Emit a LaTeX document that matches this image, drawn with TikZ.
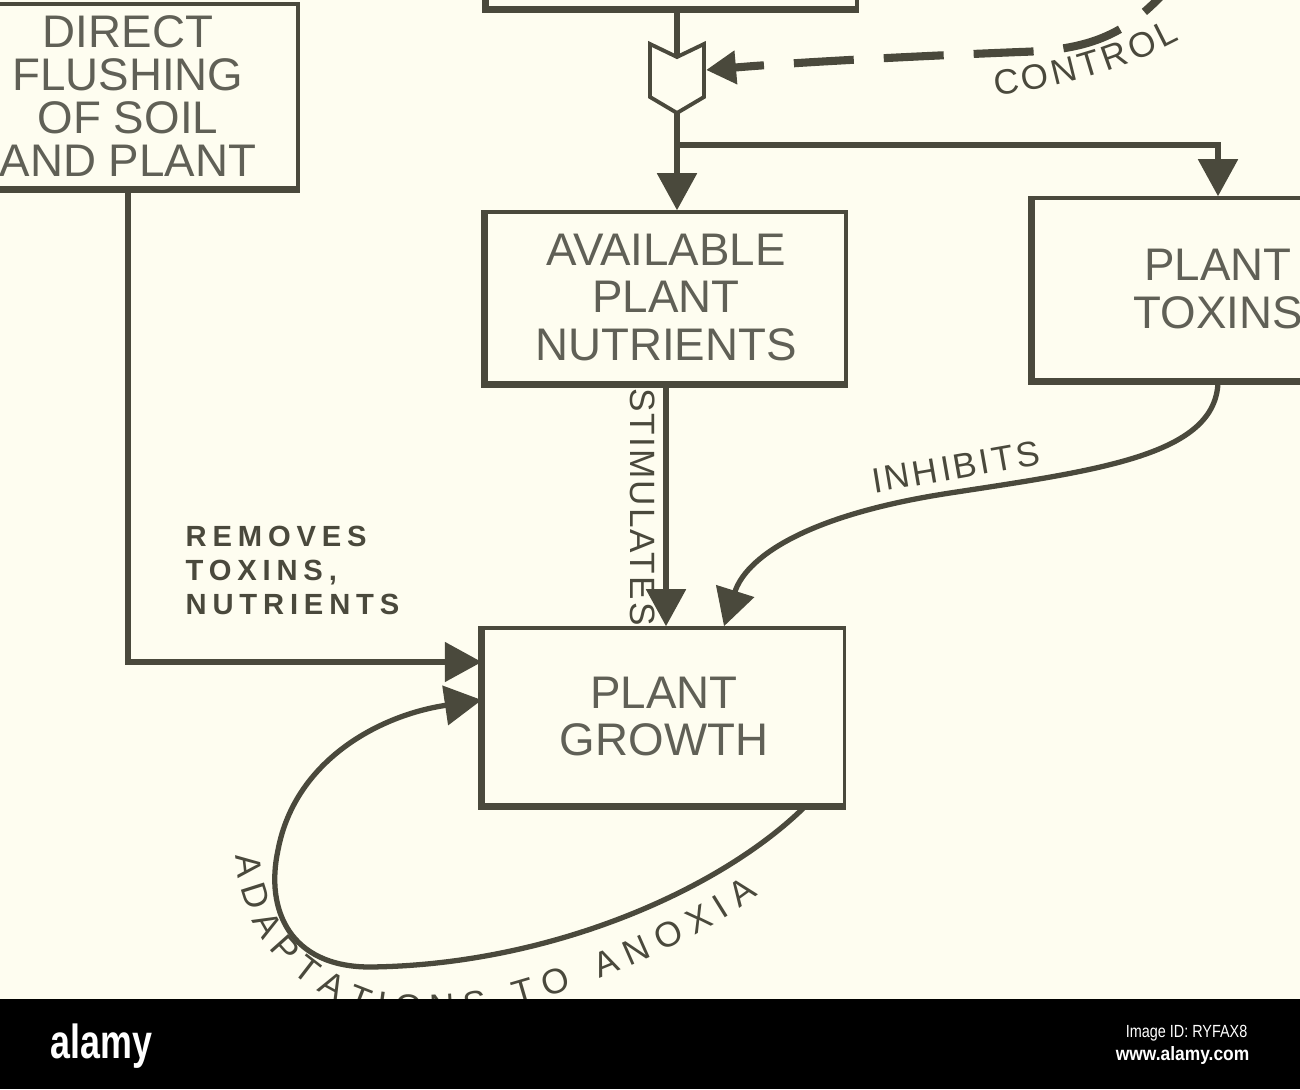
\documentclass[tikz,border=0pt]{standalone}
\usepackage{fontspec}
\setmainfont{Liberation Sans}
\newfontfamily\widefont[LetterSpace=20]{Liberation Sans}
\newfontfamily\stimfont[LetterSpace=6]{Liberation Sans}
\newcommand\labfont{\fontsize{10}{11}\selectfont}
\usetikzlibrary{arrows.meta,decorations.text}
\definecolor{paper}{RGB}{254,253,240}
\definecolor{ink}{RGB}{74,73,60}
\definecolor{boxink}{RGB}{96,96,86}
\begin{document}
\begin{tikzpicture}[
  box/.style={draw=ink,line width=1pt,fill=paper,align=center,text=boxink,
    font=\fontsize{13}{13.6}\selectfont},
  heavyedge/.style={ink,line width=1.9pt},
  flowline/.style={ink,line width=1.5pt,-{Triangle[length=3.7mm,width=3.9mm]}},
  ctrlline/.style={ink,line width=2.3pt,dash pattern=on 6mm off 3mm,dash phase=3mm,
    {Triangle[length=3mm,width=3.2mm]}-},
  valveshape/.style={draw=ink,line width=1.1pt,fill=paper},
  curvetext/.style={decorate,decoration={text along path,text align={fit to path},
    text color=ink,text={|\labfont|#1}}}]
  \useasboundingbox (0,0) rectangle (13,-10.89);
  \fill[paper] (0,0) rectangle (13,-10.89);
  \node[box,minimum width=3.7cm,minimum height=1.6cm] (top) at (6.72,0.72) {};
  \node[box,minimum width=3.4cm,minimum height=1.84cm,font=\fontsize{13}{12.2}\selectfont]
    (flush) at (1.28,-0.96) {DIRECT\\FLUSHING\\OF SOIL\\AND PLANT};
  \node[box,minimum width=3.6cm,minimum height=1.71cm] (avail) at (6.66,-2.975)
    {AVAILABLE\\PLANT\\NUTRIENTS};
  \node[box,minimum width=3.7cm,minimum height=1.82cm] (toxins) at (12.18,-2.89)
    {PLANT\\TOXINS};
  \node[box,minimum width=3.61cm,minimum height=1.77cm] (growth) at (6.64,-7.165)
    {PLANT\\GROWTH};
  \foreach \b in {top,flush,avail,toxins,growth}
    \draw[heavyedge] (\b.north west) -- (\b.south west) -- (\b.south east);
  \coordinate (vin) at (6.77,-0.57);
  \coordinate (vout) at (6.77,-1.13);
  \coordinate (vright) at (7.06,-0.70);
  \coordinate (split) at (6.77,-1.45);
  \coordinate (ctrl) at (11.75,0.2);
  \draw[ink,line width=1.5pt] (vin |- top.south) -- (vin);
  \draw[valveshape] (vin) -- ++(0.27,0.13) -- ++(0,-0.53) -- (vout)
    -- ++(-0.27,0.16) -- ++(0,0.53) -- cycle;
  \draw[ctrlline] (vright) .. controls (8.0,-0.62) and (9.2,-0.56) .. (10.2,-0.52)
    .. controls (10.9,-0.5) and (11.3,-0.35) .. (ctrl);
  \path[curvetext=CONTROL] (9.95,-0.95) .. controls (10.5,-0.9) and (11.2,-0.72) .. (11.8,-0.40);
  \draw[flowline] (vout) -- (vout |- avail.north);
  \draw[flowline] (split) -| (toxins.north);
  \draw[flowline] (avail.south) -- (avail.south |- growth.north);
  \node[rotate=-90,text=ink,font={\stimfont\fontsize{10}{12}\selectfont}] (stim)
    at (6.43,-5.07) {STIMULATES};
  \draw[flowline] (toxins.south) .. controls (12.16,-4.55) and (11.0,-4.7) .. (9.5,-4.93)
    .. controls (8.0,-5.16) and (7.45,-5.6) .. ([xshift=6mm]growth.north);
  \path[curvetext=INHIBITS] (8.74,-4.93) .. controls (9.3,-4.84) and (9.9,-4.73) .. (10.42,-4.64);
  \draw[flowline] (flush.south) |- ([yshift=5.45mm]growth.west);
  \node[anchor=north west,inner sep=0pt,align=left,text=ink,
    font={\widefont\bfseries\fontsize{8.3}{9.7}\selectfont}] (removes) at (1.85,-5.25)
    {REMOVES\\TOXINS,\\NUTRIENTS};
  \draw[flowline] ([xshift=-4.15mm]growth.south east) .. controls (7.2,-8.9) and (5.5,-9.65) .. (3.7,-9.67)
    .. controls (2.9,-9.67) and (2.65,-9.1) .. (2.78,-8.5)
    .. controls (2.95,-7.6) and (3.8,-7.15) .. ([yshift=1.65mm]growth.west);
  \path[curvetext=ADAPTATIONS TO ANOXIA] (2.36,-8.55) .. controls (2.4,-9.3) and (2.85,-9.87) .. (3.7,-10.15)
    .. controls (4.6,-10.3) and (5.3,-10.05) .. (5.9,-9.82)
    .. controls (6.6,-9.55) and (7.2,-9.25) .. (7.58,-8.95);
  \fill[black] (0,-9.99) rectangle (13,-10.89);
  \node[anchor=base west,inner sep=0pt,text=white,font=\bfseries\fontsize{13.6}{14}\selectfont]
    (logo) at (0.5,-10.58) {\scalebox{0.75}[1]{alamy}};
  \node[anchor=base east,inner sep=0pt,text=white,font=\fontsize{5}{6}\selectfont]
    (imgid) at (12.48,-10.37) {\scalebox{0.82}[1]{Image ID: RYFAX8}};
  \node[anchor=base east,inner sep=0pt,text=white,font=\bfseries\fontsize{5.5}{6}\selectfont]
    (site) at (12.5,-10.6) {\scalebox{0.9}[1]{www.alamy.com}};
\end{tikzpicture}
\end{document}
